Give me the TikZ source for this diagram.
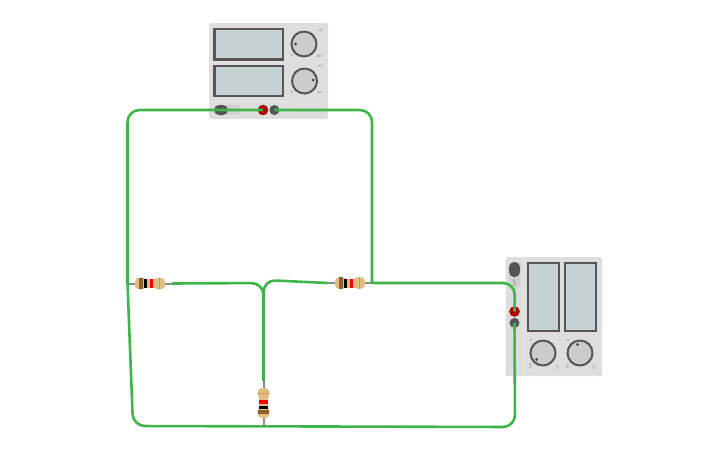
\documentclass[tikz,border=0pt]{standalone}
\usepackage{tikz}
\usetikzlibrary{positioning,calc}
\definecolor{wiregreen}{HTML}{3DB54A}
\definecolor{panelgray}{HTML}{DEDEDE}
\definecolor{screenfill}{HTML}{C6D1D3}
\definecolor{darkgray}{HTML}{555555}
\definecolor{bodytan}{HTML}{E3BE82}
\tikzset{
  panel/.style={draw=none,fill=panelgray,rounded corners=2pt,inner sep=0pt},
  screen/.style={draw=darkgray,line width=2.6pt,fill=screenfill,inner sep=0pt},
  knob/.style={circle,draw=black!70,line width=2pt,dash pattern=on 1.4pt off 0.4pt,fill=black!20,minimum size=25pt,inner sep=0pt},
  dot/.style={circle,fill=black!75,minimum size=3pt,inner sep=0pt},
  pill/.style={rounded corners=5pt,fill=darkgray,inner sep=0pt},
  lightpill/.style={rounded corners=5pt,fill=black!18,inner sep=0pt},
  redpost/.style={circle,fill=red!70!black,draw=red!55!black,minimum size=10pt,inner sep=0pt},
  blackpost/.style={circle,fill=darkgray,minimum size=10pt,inner sep=0pt},
  wire/.style={draw=wiregreen,line width=2.6pt,rounded corners=12pt},
  tiny label/.style={text=black!60,font=\sffamily\fontsize{3.2}{3.2}\selectfont,inner sep=0pt},
  pics/resistor/.style={code={
    \coordinate (-in) at (-22,0);
    \coordinate (-out) at (22,0);
    \draw[black!45,line width=2pt] (-in) -- (-out);
    \fill[bodytan] (-9,-4.5) rectangle (9,4.5);
    \fill[bodytan,rounded corners=4pt] (-15,-5.8) rectangle (-4,5.8);
    \fill[bodytan,rounded corners=4pt] (4,-5.8) rectangle (15,5.8);
    \fill[brown!75!black] (-11,-5.6) rectangle (-7.3,5.6);
    \fill[black] (-6,-4.5) rectangle (-2.7,4.5);
    \fill[red] (-0.5,-4.5) rectangle (3.3,4.5);
    \fill[brown!60!bodytan] (9,-5.6) rectangle (10,5.6);
  }}
}
\begin{document}
\begin{tikzpicture}[x=1pt,y=-1pt]
  \useasboundingbox (0,0) rectangle (725,453);
  % top supply
  \fill[panel] (209,23) rectangle (328,119);
  \draw[black!10,line width=0.6pt] (209,101) -- (328,101);
  \draw[screen] (214.5,29) rectangle (283,59.5);
  \draw[screen] (214.5,66) rectangle (283,96);
  \node[knob] (knobV) at (304,44) {};
  \node[knob] (knobI) at (304.5,81) {};
  \node[dot] at (295.5,44) {};
  \node[dot] at (313,80) {};
  \node[tiny label] at (292,55.5) {0};
  \node[tiny label] at (319.5,56.5) {30V};
  \node[tiny label] at (320.5,30) {CV};
  \node[tiny label] at (292,92.5) {0};
  \node[tiny label] at (319.5,92.5) {5A};
  \node[tiny label] at (320.5,66.5) {CC};
  \fill[lightpill] (214,105) rectangle (241,115);
  \fill[pill] (214,105) rectangle (228,115);
  \node[tiny label,text=black!35] at (234.5,110) {OFF};
  \fill[black!15] (297,108) rectangle (314,112);
  \fill[black!15] (317,107) -- (319,107) -- (317.5,113) -- (315.5,113) -- cycle;
  \node[redpost] (redA) at (263,110) {};
  \node[blackpost] (blackA) [right=1pt of redA] {};
  % right supply
  \fill[panel] (505.5,257) rectangle (602,376);
  \draw[black!10,line width=0.6pt] (523,257) -- (523,376);
  \draw[screen] (528,263) rectangle (559,331);
  \draw[screen] (565,263) rectangle (596,331);
  \node[knob] (knobL) at (543,353) {};
  \node[knob] (knobR) at (580,353) {};
  \node[dot] at (536.5,359.5) {};
  \node[dot] at (577.5,344.5) {};
  \node[tiny label] at (531,340) {0};
  \node[tiny label] at (568,340) {0};
  \node[tiny label,rotate=90] at (530.5,366.5) {30V};
  \node[tiny label,rotate=90] at (567.5,366.5) {5A};
  \node[tiny label,rotate=90] at (557.5,367.5) {CV};
  \node[tiny label,rotate=90] at (594,367.5) {CC};
  \fill[lightpill] (509,262) rectangle (520,290);
  \fill[pill] (509,262) rectangle (520,277);
  \node[tiny label,rotate=90] at (514.5,283) {OFF};
  \fill[black!15] (512,345) rectangle (516,368);
  \node[redpost] (redB) at (514.5,311.5) {};
  \node[blackpost] (blackB) [below=1pt of redB] {};
  % resistors
  \pic (rA) at (150,283.5) {resistor};
  \pic (rB) at (350,283) {resistor};
  \pic[rotate=90] (rC) at (263.5,403) {resistor};
  % corners of the wires
  \coordinate (j1) at (127.5,283);
  \coordinate (j2) at (372,283);
  \path[wire]
    (redA.center) -- (127.5,110) -- (j1)
    (j1) -- (rA-in)
    (j1) -- (133,426) -- (515,427) -- (blackB.center)
    (blackA.center) -- (372,110) -- (j2)
    (rB-out) -- (515,283) -- (redB.center)
    (rA-out) -- (263.5,283) -- (rC-out)
    (rB-in) -- (263.5,280) -- (rC-out);
\end{tikzpicture}
\end{document}
